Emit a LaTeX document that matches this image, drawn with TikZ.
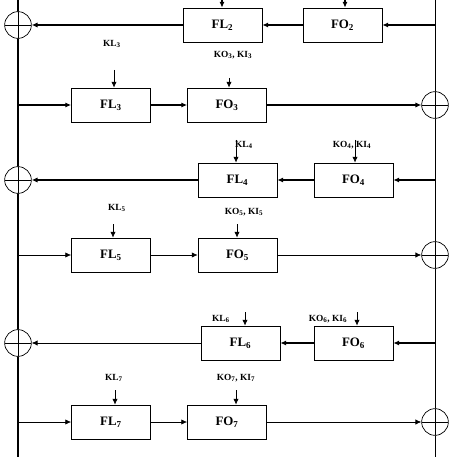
\documentclass[tikz,border=0pt]{standalone}
\usepackage{fontspec}
\setmainfont{Liberation Serif}
\usetikzlibrary{arrows.meta}

\tikzset{
  fbox/.style={draw, line width=0.6pt, minimum width=2.37cm, minimum height=1.02cm,
    inner sep=0pt, font=\fontsize{11}{12}\selectfont\bfseries},
  xorop/.style={draw, circle, line width=0.6pt, minimum size=0.8cm, inner sep=0pt,
    path picture={\draw[line width=0.6pt]
      (path picture bounding box.west) -- (path picture bounding box.east)
      (path picture bounding box.north) -- (path picture bounding box.south);}},
  keylab/.style={font=\fontsize{8}{9}\selectfont\bfseries, inner sep=0pt},
  flow/.style={-{Latex[length=5pt,width=4.5pt]}, line width=0.6pt},
  heavy/.style={flow, line width=1.1pt}
}

\begin{document}
\begin{tikzpicture}[x=0.03cm, y=-0.03cm]
\useasboundingbox (0,0) rectangle (457,457);

% main lines
\coordinate (ltop) at (18,0);
\coordinate (lbot) at (18,457);
\coordinate (rtop) at (435,0);
\coordinate (rbot) at (435,457);
\draw[line width=1.4pt] (ltop) -- (lbot);
\draw[line width=0.8pt] (rtop) -- (rbot);

% round 2
\node[fbox] (fl2) at (222.5,25) {FL\textsubscript{2}};
\node[fbox] (fo2) at (342.5,25) {FO\textsubscript{2}};
\node[xorop, fill=white] (x2) at (18,25) {};
\coordinate (kfl2) at (222,0);
\coordinate (kfo2) at (345,0);
\coordinate (r2) at (435,25);
\draw[heavy] (kfl2) -- (kfl2 |- fl2.north);
\draw[heavy] (kfo2) -- (kfo2 |- fo2.north);
\draw[heavy] (r2) -- (fo2);
\draw[heavy] (fo2) -- (fl2);
\draw[heavy] (fl2) -- (x2);

% round 3
\node[fbox] (fl3) at (111,105) {FL\textsubscript{3}};
\node[fbox] (fo3) at (227,105) {FO\textsubscript{3}};
\node[xorop, fill=white] (x3) at (435,105) {};
\node[keylab] (kl3) at (112,44) {KL\textsubscript{3}};
\node[keylab] (ko3) at (233,55) {KO\textsubscript{3}, KI\textsubscript{3}};
\coordinate (kfl3) at (114,70);
\coordinate (kfo3) at (229,78);
\coordinate (l3) at (18,105);
\draw[flow] (kfl3) -- (kfl3 |- fl3.north);
\draw[flow] (kfo3) -- (kfo3 |- fo3.north);
\draw[heavy] (l3) -- (fl3);
\draw[heavy] (fl3) -- (fo3);
\draw[heavy] (fo3) -- (x3);

% round 4
\node[fbox] (fl4) at (237.5,180) {FL\textsubscript{4}};
\node[fbox] (fo4) at (353.5,180) {FO\textsubscript{4}};
\node[xorop, fill=white] (x4) at (18,180) {};
\node[keylab] (kl4) at (244,145) {KL\textsubscript{4}};
\node[keylab] (ko4) at (352,145) {KO\textsubscript{4}, KI\textsubscript{4}};
\coordinate (kfl4) at (236,140);
\coordinate (kfo4) at (355,140);
\coordinate (r4) at (435,180);
\draw[flow] (kfl4) -- (kfl4 |- fl4.north);
\draw[flow] (kfo4) -- (kfo4 |- fo4.north);
\draw[heavy] (r4) -- (fo4);
\draw[heavy] (fo4) -- (fl4);
\draw[heavy] (fl4) -- (x4);

% round 5
\node[fbox] (fl5) at (111,255) {FL\textsubscript{5}};
\node[fbox] (fo5) at (237.5,255) {FO\textsubscript{5}};
\node[xorop, fill=white] (x5) at (435,255) {};
\node[keylab] (kl5) at (117,208) {KL\textsubscript{5}};
\node[keylab] (ko5) at (244,212) {KO\textsubscript{5}, KI\textsubscript{5}};
\coordinate (kfl5) at (113,224);
\coordinate (kfo5) at (237,224);
\coordinate (l5) at (18,255);
\draw[flow] (kfl5) -- (kfl5 |- fl5.north);
\draw[flow] (kfo5) -- (kfo5 |- fo5.north);
\draw[flow] (l5) -- (fl5);
\draw[flow] (fl5) -- (fo5);
\draw[flow] (fo5) -- (x5);

% round 6
\node[fbox] (fl6) at (240.5,343) {FL\textsubscript{6}};
\node[fbox] (fo6) at (353.5,343) {FO\textsubscript{6}};
\node[xorop, fill=white] (x6) at (18,343) {};
\node[keylab] (kl6) at (221,319) {KL\textsubscript{6}};
\node[keylab] (ko6) at (328,319) {KO\textsubscript{6}, KI\textsubscript{6}};
\coordinate (kfl6) at (245,312);
\coordinate (kfo6) at (357,312);
\coordinate (r6) at (435,343);
\draw[flow] (kfl6) -- (kfl6 |- fl6.north);
\draw[flow] (kfo6) -- (kfo6 |- fo6.north);
\draw[heavy] (r6) -- (fo6);
\draw[heavy] (fo6) -- (fl6);
\draw[flow] (fl6) -- (x6);

% round 7
\node[fbox] (fl7) at (111,422) {FL\textsubscript{7}};
\node[fbox] (fo7) at (227,422) {FO\textsubscript{7}};
\node[xorop, fill=white] (x7) at (435,422) {};
\node[keylab] (kl7) at (114,378) {KL\textsubscript{7}};
\node[keylab] (ko7) at (236,378) {KO\textsubscript{7}, KI\textsubscript{7}};
\coordinate (kfl7) at (115,390);
\coordinate (kfo7) at (236,390);
\coordinate (l7) at (18,422);
\draw[flow] (kfl7) -- (kfl7 |- fl7.north);
\draw[flow] (kfo7) -- (kfo7 |- fo7.north);
\draw[flow] (l7) -- (fl7);
\draw[flow] (fl7) -- (fo7);
\draw[flow] (fo7) -- (x7);
\end{tikzpicture}
\end{document}
